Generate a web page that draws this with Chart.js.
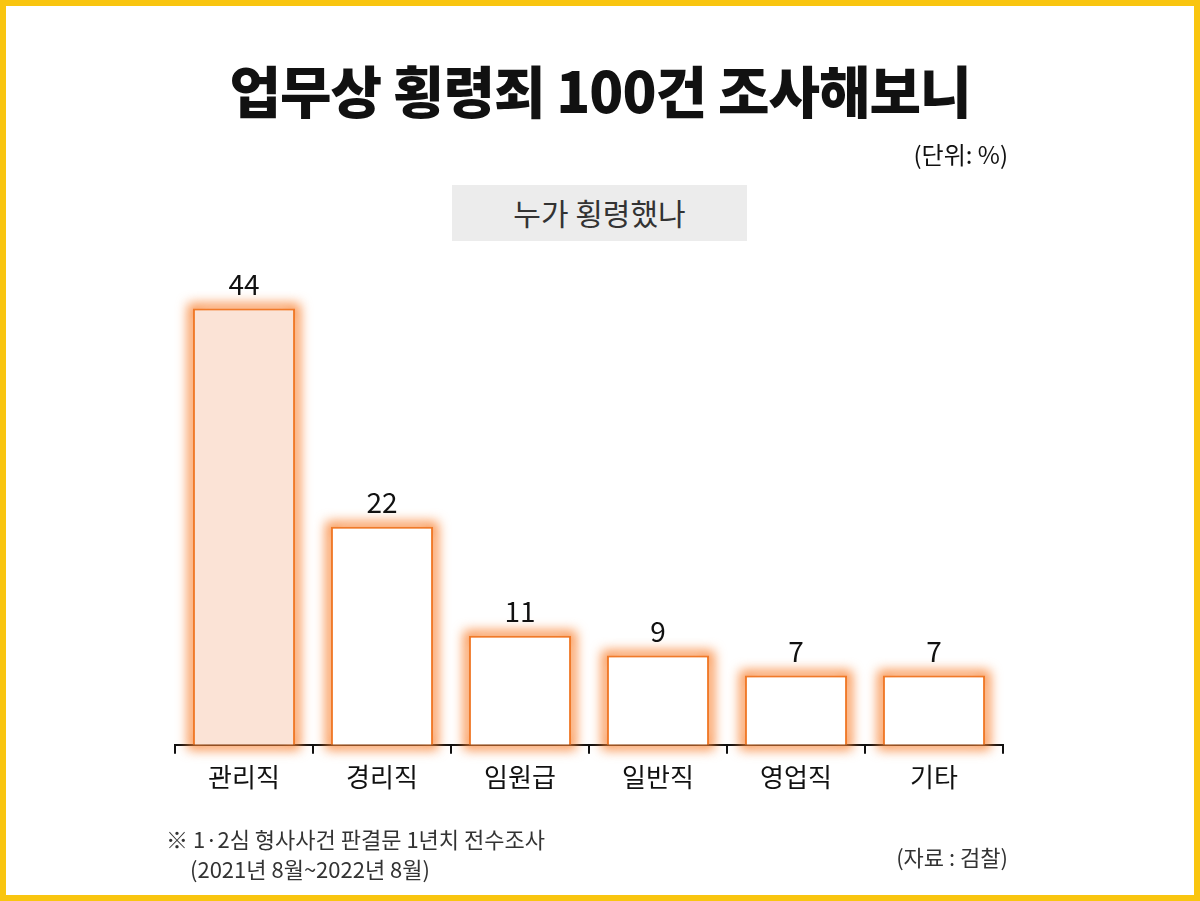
<!DOCTYPE html>
<html><head><meta charset="utf-8">
<script src="https://cdn.jsdelivr.net/npm/chart.js@4"></script>
<style>
body{margin:0;background:#fff;font-family:"Noto Sans CJK KR","Noto Sans",sans-serif;}
#wrap{position:relative;width:1188px;height:889px;border:6px solid #f9c50f;overflow:hidden;}
.t{position:absolute;white-space:nowrap;color:#111;}
canvas{position:absolute;left:-6px;top:-6px;}
</style></head><body>
<div id="wrap">
<canvas id="myChart" width="1200" height="901"></canvas>
<div class="t" style="left:0;width:1188px;text-align:center;top:42px;font-size:56px;font-weight:900;letter-spacing:-1px;">업무상 횡령죄 100건 조사해보니</div>
<div class="t" style="right:186px;top:130px;font-size:24px;">(단위: %)</div>
<div class="t" style="left:446px;top:179px;width:295px;height:56px;background:#ececec;text-align:center;font-size:30px;line-height:54px;color:#333;">누가 횡령했나</div>
<div class="t" style="left:160px;top:816px;font-size:22px;color:#333;">※ 1·2심 형사사건 판결문 1년치 전수조사</div>
<div class="t" style="left:184px;top:846px;font-size:22px;color:#333;">(2021년 8월~2022년 8월)</div>
<div class="t" style="right:186px;top:834px;font-size:22px;color:#333;">(자료 : 검찰)</div>
</div>
<script>
var categories = ['관리직', '경리직', '임원급', '일반직', '영업직', '기타'];
var values = [44, 22, 11, 9, 7, 7];
var fills = ['#fbe3d6', '#fff', '#fff', '#fff', '#fff', '#fff'];

var glow = {
    id: 'glow',
    beforeDatasetsDraw: function (chart) {
        // 막대 주변 주황색 번짐
        var c = chart.ctx;
        c.save();
        c.filter = 'blur(6px)';
        c.strokeStyle = 'rgba(248,130,50,0.9)';
        c.lineWidth = 10;
        chart.getDatasetMeta(0).data.forEach(function (bar) {
            var w = bar.width;
            c.strokeRect(bar.x - w / 2, bar.y, w, bar.base - bar.y);
        });
        c.restore();
    },
    afterDatasetsDraw: function (chart) {
        var c = chart.ctx;
        c.save();
        c.font = '28px "Noto Sans CJK KR"';
        c.fillStyle = '#111';
        c.textAlign = 'center';
        c.textBaseline = 'bottom';
        chart.getDatasetMeta(0).data.forEach(function (bar, i) {
            c.fillText(values[i], bar.x, bar.y - 10);
        });
        c.restore();
    }
};

var ctx = document.getElementById('myChart').getContext('2d');
new Chart(ctx, {
    type: 'bar',
    data: {
        labels: categories,
        datasets: [{
            data: values,
            backgroundColor: fills,
            borderColor: '#f07a2a',
            borderWidth: 2,
            barPercentage: 0.74,
            categoryPercentage: 1
        }]
    },
    options: {
        responsive: false,
        animation: false,
        layout: { padding: { left: 175, right: 197, top: 249, bottom: 100 } },
        plugins: { legend: { display: false }, tooltip: { enabled: false } },
        scales: {
            y: { display: false, min: 0, max: 50 },
            x: {
                border: { color: '#111', width: 2 },
                grid: { offset: true, drawOnChartArea: false, tickLength: 9, color: '#111', lineWidth: 2 },
                ticks: { color: '#111', padding: 8, font: { size: 26, family: '"Noto Sans CJK KR"' } }
            }
        }
    },
    plugins: [glow]
});
</script>
</body></html>
